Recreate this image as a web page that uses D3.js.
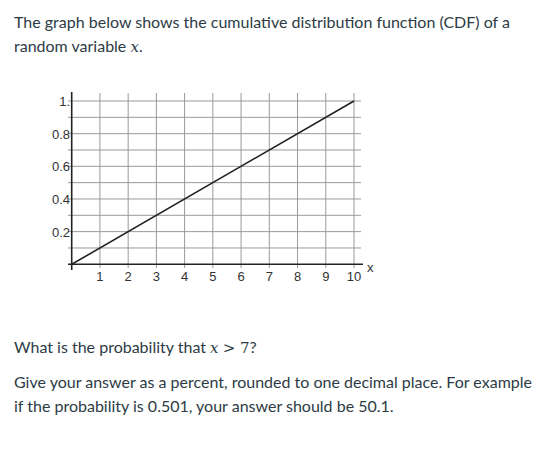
<!DOCTYPE html><html><head><meta charset="utf-8"><script src="https://cdn.jsdelivr.net/npm/d3@7"></script>
<style>body{margin:0;background:#fff;font-family:Lato,sans-serif;color:#2d3b45}p{position:absolute;margin:0;left:14px;font-size:16px;line-height:24px}.m{font-family:'DejaVu Serif',serif;font-style:italic;font-size:15px}.n{font-family:'DejaVu Serif',serif;font-size:15px}</style></head><body>
<p style="top:10px">The graph below shows the cumulative distribution function (CDF) of a<br>random variable <span class="m">x</span>.</p>
<p style="top:335px">What is the probability that <span class="m">x</span> <span class="n">&gt; 7</span>?</p>
<p style="top:370px">Give your answer as a percent, rounded to one decimal place. For example<br>if the probability is 0.501, your answer should be 50.1.</p>
<svg id="c" width="547" height="451" style="position:absolute;left:0;top:0"></svg>
<script>
const xTicks=[1,2,3,4,5,6,7,8,9,10];
const yTicks=[0.2,0.4,0.6,0.8,1];
const yGrid=[0.1,0.2,0.3,0.4,0.5,0.6,0.7,0.8,0.9,1];
const cdfX=[0,10], cdfY=[0,1];
const svg=d3.select("#c");
const x=d3.scaleLinear().domain([0,10]).range([71.7,354]);
const y=d3.scaleLinear().domain([0,1]).range([264.3,101]);
const g=svg.append("g");
g.selectAll(".vx").data(xTicks).join("line").attr("x1",d=>x(d)).attr("x2",d=>x(d)).attr("y1",93).attr("y2",268).attr("stroke","#999").attr("stroke-width",1);
g.selectAll(".hy").data(yGrid).join("line").attr("x1",68).attr("x2",361).attr("y1",d=>y(d)).attr("y2",d=>y(d)).attr("stroke","#999").attr("stroke-width",1);
g.append("line").attr("x1",x(0)).attr("x2",x(0)).attr("y1",92).attr("y2",270).attr("stroke","#222").attr("stroke-width",1.6);
g.append("line").attr("x1",68).attr("x2",363).attr("y1",y(0)).attr("y2",y(0)).attr("stroke","#222").attr("stroke-width",1.6);
g.append("path").datum(cdfX.map((d,i)=>[d,cdfY[i]])).attr("d",d3.line().x(d=>x(d[0])).y(d=>y(d[1]))).attr("stroke","#222").attr("stroke-width",1.6).attr("fill","none");
g.selectAll(".xl").data(xTicks).join("text").attr("x",d=>x(d)).attr("y",281).attr("text-anchor","middle").attr("font-family","Arial,Liberation Sans").attr("font-size",13).attr("fill","#333").text(d=>d);
g.selectAll(".yl").data(yTicks).join("text").attr("x",70).attr("y",d=>y(d)+5).attr("text-anchor","end").attr("font-family","Arial,Liberation Sans").attr("font-size",13).attr("fill","#333").text(d=>d===1?"1.":d);
g.append("text").attr("x",367).attr("y",272).attr("font-family","Arial,Liberation Sans").attr("font-size",13).attr("fill","#333").text("x");
</script></body></html>
